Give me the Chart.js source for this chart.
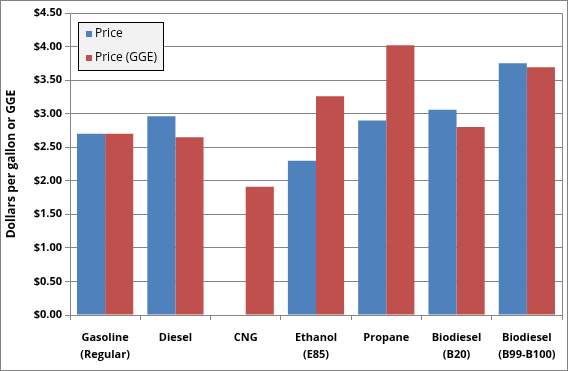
<!DOCTYPE html>
<html>
<head>
<meta charset="utf-8">
<script src="https://cdn.jsdelivr.net/npm/chart.js@4.4.1/dist/chart.umd.min.js"></script>
<style>
  html, body { margin: 0; padding: 0; background: #fff; }
  #wrap { width: 568px; height: 371px; }
</style>
</head>
<body>
<div id="wrap"><canvas id="chart" width="568" height="371"></canvas></div>
<script>
var categories = [
  ['Gasoline', '(Regular)'],
  'Diesel',
  'CNG',
  ['Ethanol', '(E85)'],
  'Propane',
  ['Biodiesel', '(B20)'],
  ['Biodiesel', '(B99-B100)']
];
var priceValues = [2.70, 2.96, null, 2.30, 2.90, 3.06, 3.75];
var ggeValues = [2.70, 2.65, 1.91, 3.26, 4.02, 2.80, 3.69];
var yTicks = [0, 0.5, 1, 1.5, 2, 2.5, 3, 3.5, 4, 4.5];

var FONT = "'Open Sans', 'Liberation Sans', sans-serif";
var GRID = '#868686';

// frame around the whole picture and around the plot area
var framePlugin = {
  id: 'frame',
  afterDraw: function(chart) {
    var ctx = chart.ctx, a = chart.chartArea;
    ctx.save();
    ctx.strokeStyle = '#828282';
    ctx.lineWidth = 1;
    ctx.strokeRect(0.5, 0.5, chart.width - 1, chart.height - 1);
    ctx.strokeStyle = GRID;
    ctx.beginPath();
    ctx.moveTo(a.left, Math.round(a.top) + 0.5);
    ctx.lineTo(Math.round(a.right) + 0.5, Math.round(a.top) + 0.5);
    ctx.lineTo(Math.round(a.right) + 0.5, a.bottom);
    ctx.stroke();
    ctx.restore();
  }
};

// boxed legend inside the plot, top left
var boxLegend = {
  id: 'boxLegend',
  afterDraw: function(chart) {
    var ctx = chart.ctx;
    var x = 78.5, y = 22.5, w = 85, h = 48;
    ctx.save();
    ctx.fillStyle = '#f2f2f2';
    ctx.fillRect(x, y, w, h);
    ctx.strokeStyle = '#000';
    ctx.lineWidth = 1;
    ctx.strokeRect(x, y, w, h);
    ctx.font = '12px ' + FONT;
    ctx.textBaseline = 'middle';
    chart.data.datasets.forEach(function(ds, i) {
      var cy = 34 + i * 24;
      ctx.fillStyle = ds.backgroundColor;
      ctx.fillRect(86, cy - 3, 6, 6);
      ctx.fillStyle = '#000';
      ctx.fillText(ds.label, 95, cy);
    });
    ctx.restore();
  }
};

new Chart(document.getElementById('chart'), {
  type: 'bar',
  data: {
    labels: categories,
    datasets: [
      { label: 'Price', data: priceValues, backgroundColor: '#4f81bd' },
      { label: 'Price (GGE)', data: ggeValues, backgroundColor: '#c0504d' }
    ]
  },
  options: {
    responsive: false,
    animation: false,
    layout: { padding: { left: 0, right: 6, top: 13, bottom: 6 } },
    datasets: { bar: { categoryPercentage: 0.8, barPercentage: 1.0 } },
    plugins: {
      legend: { display: false },
      tooltip: { enabled: false }
    },
    scales: {
      x: {
        grid: { display: true, drawOnChartArea: false, drawTicks: true, tickLength: 5, color: GRID },
        border: { color: GRID },
        ticks: { color: '#000', font: { family: FONT, size: 11, weight: 'bold', lineHeight: 1.5 }, maxRotation: 0, autoSkip: false, padding: 10 },
        afterFit: function(scale) { scale.height = 50; }
      },
      y: {
        min: 0,
        max: 4.5,
        afterBuildTicks: function(scale) {
          scale.ticks = yTicks.map(function(v) { return { value: v }; });
        },
        grid: { color: GRID, drawTicks: true, tickLength: 5 },
        border: { color: GRID },
        ticks: {
          color: '#000',
          font: { family: FONT, size: 11, weight: 'bold' },
          padding: 3,
          callback: function(v) { return '$' + Number(v).toFixed(2); }
        },
        title: {
          display: true,
          text: 'Dollars per gallon or GGE',
          color: '#000',
          font: { family: FONT, size: 12, weight: 'bold' },
          padding: { top: 4, bottom: 6 }
        },
        afterFit: function(scale) { scale.width = 70; }
      }
    }
  },
  plugins: [framePlugin, boxLegend]
});
</script>
</body>
</html>
